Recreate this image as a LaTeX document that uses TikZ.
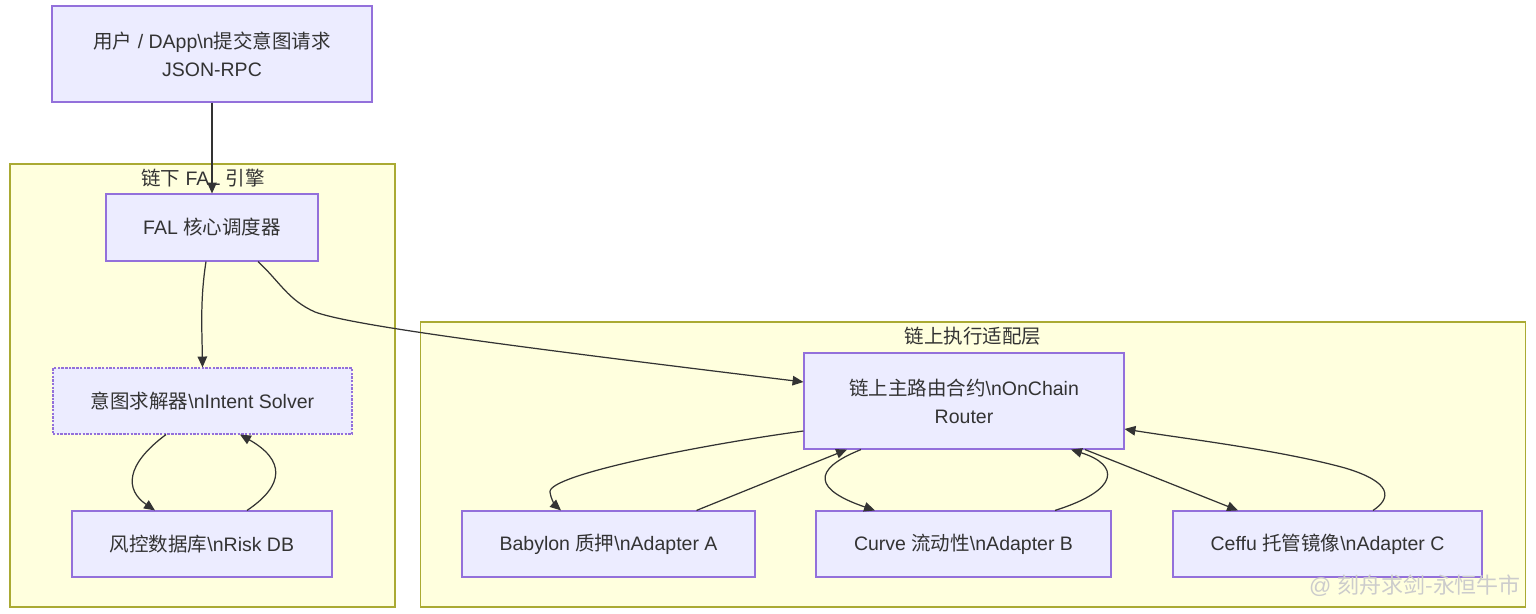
\documentclass[tikz,border=0pt]{standalone}
\usepackage{fontspec}
\setmainfont{Liberation Sans}
\newfontfamily\cjk{Noto Sans CJK SC}
\usetikzlibrary{arrows.meta}
\definecolor{nodefill}{HTML}{ECECFF}
\definecolor{nodeline}{HTML}{9370DB}
\definecolor{groupfill}{HTML}{FFFFDE}
\definecolor{groupline}{HTML}{AAAA33}
\definecolor{inkgray}{HTML}{333333}
\newcommand{\zh}[1]{{\cjk #1}}
\newcommand{\bsn}{\textbackslash n}

\begin{document}
\begin{tikzpicture}[x=0.02cm,y=-0.02cm,
    font=\fontsize{11.1}{15.9}\selectfont,text=inkgray,
    box/.style={draw=nodeline,fill=nodefill,line width=0.65pt,inner sep=0pt,align=center},
    group/.style={draw=groupline,fill=groupfill,line width=0.65pt,inner sep=0pt},
    flow/.style={draw=inkgray,line width=0.7pt,-{Triangle[length=6.2pt,width=5.4pt]}}]
  \useasboundingbox[fill=white] (0,0) rectangle (1536,614);

  % subgraphs
  \node[group,minimum width=7.7cm,minimum height=8.86cm] (offchain) at (202.5,385.5) {};
  \node (offtitle) at (203,178) {\zh{链下} FAL \zh{引擎}};
  \node[group,minimum width=22.12cm,minimum height=5.7cm] (onchain) at (973,464.5) {};
  \node (ontitle) at (973,336) {\zh{链上执行适配层}};

  % nodes
  \node[box,minimum width=6.4cm,minimum height=1.92cm] (user) at (212,54)
    {\zh{用户} / DApp\bsn\zh{提交意图请求}\\JSON-RPC};
  \node[box,minimum width=4.24cm,minimum height=1.34cm] (core) at (212,227.5)
    {FAL \zh{核心调度器}};
  \node[box,dash pattern=on 1.4pt off 0.7pt,minimum width=5.98cm,minimum height=1.32cm] (solver) at (202.5,401)
    {\zh{意图求解器}\bsn Intent Solver};
  \node[box,minimum width=5.2cm,minimum height=1.32cm] (riskdb) at (202,544)
    {\zh{风控数据库}\bsn Risk DB};
  \node[box,minimum width=6.4cm,minimum height=1.92cm] (router) at (964,401)
    {\zh{链上主路由合约}\bsn OnChain\\Router};
  \node[box,minimum width=5.86cm,minimum height=1.32cm] (adA) at (608.5,544)
    {Babylon \zh{质押}\bsn Adapter A};
  \node[box,minimum width=5.9cm,minimum height=1.32cm] (adB) at (963.5,544)
    {Curve \zh{流动性}\bsn Adapter B};
  \node[box,minimum width=6.18cm,minimum height=1.32cm] (adC) at (1327.5,544)
    {Ceffu \zh{托管镜像}\bsn Adapter C};

  % edges
  \draw[flow] (user.south) -- (core.north);
  \draw[flow] ([shift={(-6,0)}]core.south) .. controls (200,300) and (202,330) .. (solver.north);
  \draw[flow] ([shift={(46,0)}]core.south) .. controls (280,282) and (288,300) .. (315,312)
    .. controls (350,325) and (500,345) .. ([shift={(0,-19)}]router.west);
  \draw[flow] ([shift={(-36.5,0)}]solver.south) .. controls (125,465) and (125,490) .. ([shift={(-47,0)}]riskdb.north);
  \draw[flow] ([shift={(45,0)}]riskdb.north) .. controls (285,485) and (285,460) .. ([shift={(37.5,0)}]solver.south);
  \draw[flow] ([shift={(0,30)}]router.west) .. controls (700,445) and (548,475) .. (550,492)
    .. controls (551,500) and (556,506) .. ([shift={(-47.5,0)}]adA.north);
  \draw[flow] ([shift={(88,0)}]adA.north) -- ([shift={(-117,0)}]router.south);
  \draw[flow] ([shift={(-103,0)}]router.south) .. controls (810,470) and (815,490) .. ([shift={(-88.5,0)}]adB.north);
  \draw[flow] ([shift={(91.5,0)}]adB.north) .. controls (1120,490) and (1120,465) .. ([shift={(107,0)}]router.south);
  \draw[flow] ([shift={(121,0)}]router.south) -- ([shift={(-89.5,0)}]adC.north);
  \draw[flow] ([shift={(45.5,0)}]adC.north) .. controls (1392,498) and (1392,482) .. (1345,468)
    .. controls (1280,450) and (1180,438) .. ([shift={(0,28)}]router.east);

  % watermark
  \node[text=gray!40,font=\fontsize{12.5}{14}\selectfont] (mark) at (1415,586) {@ \zh{刻舟求剑-永恒牛市}};
\end{tikzpicture}
\end{document}
